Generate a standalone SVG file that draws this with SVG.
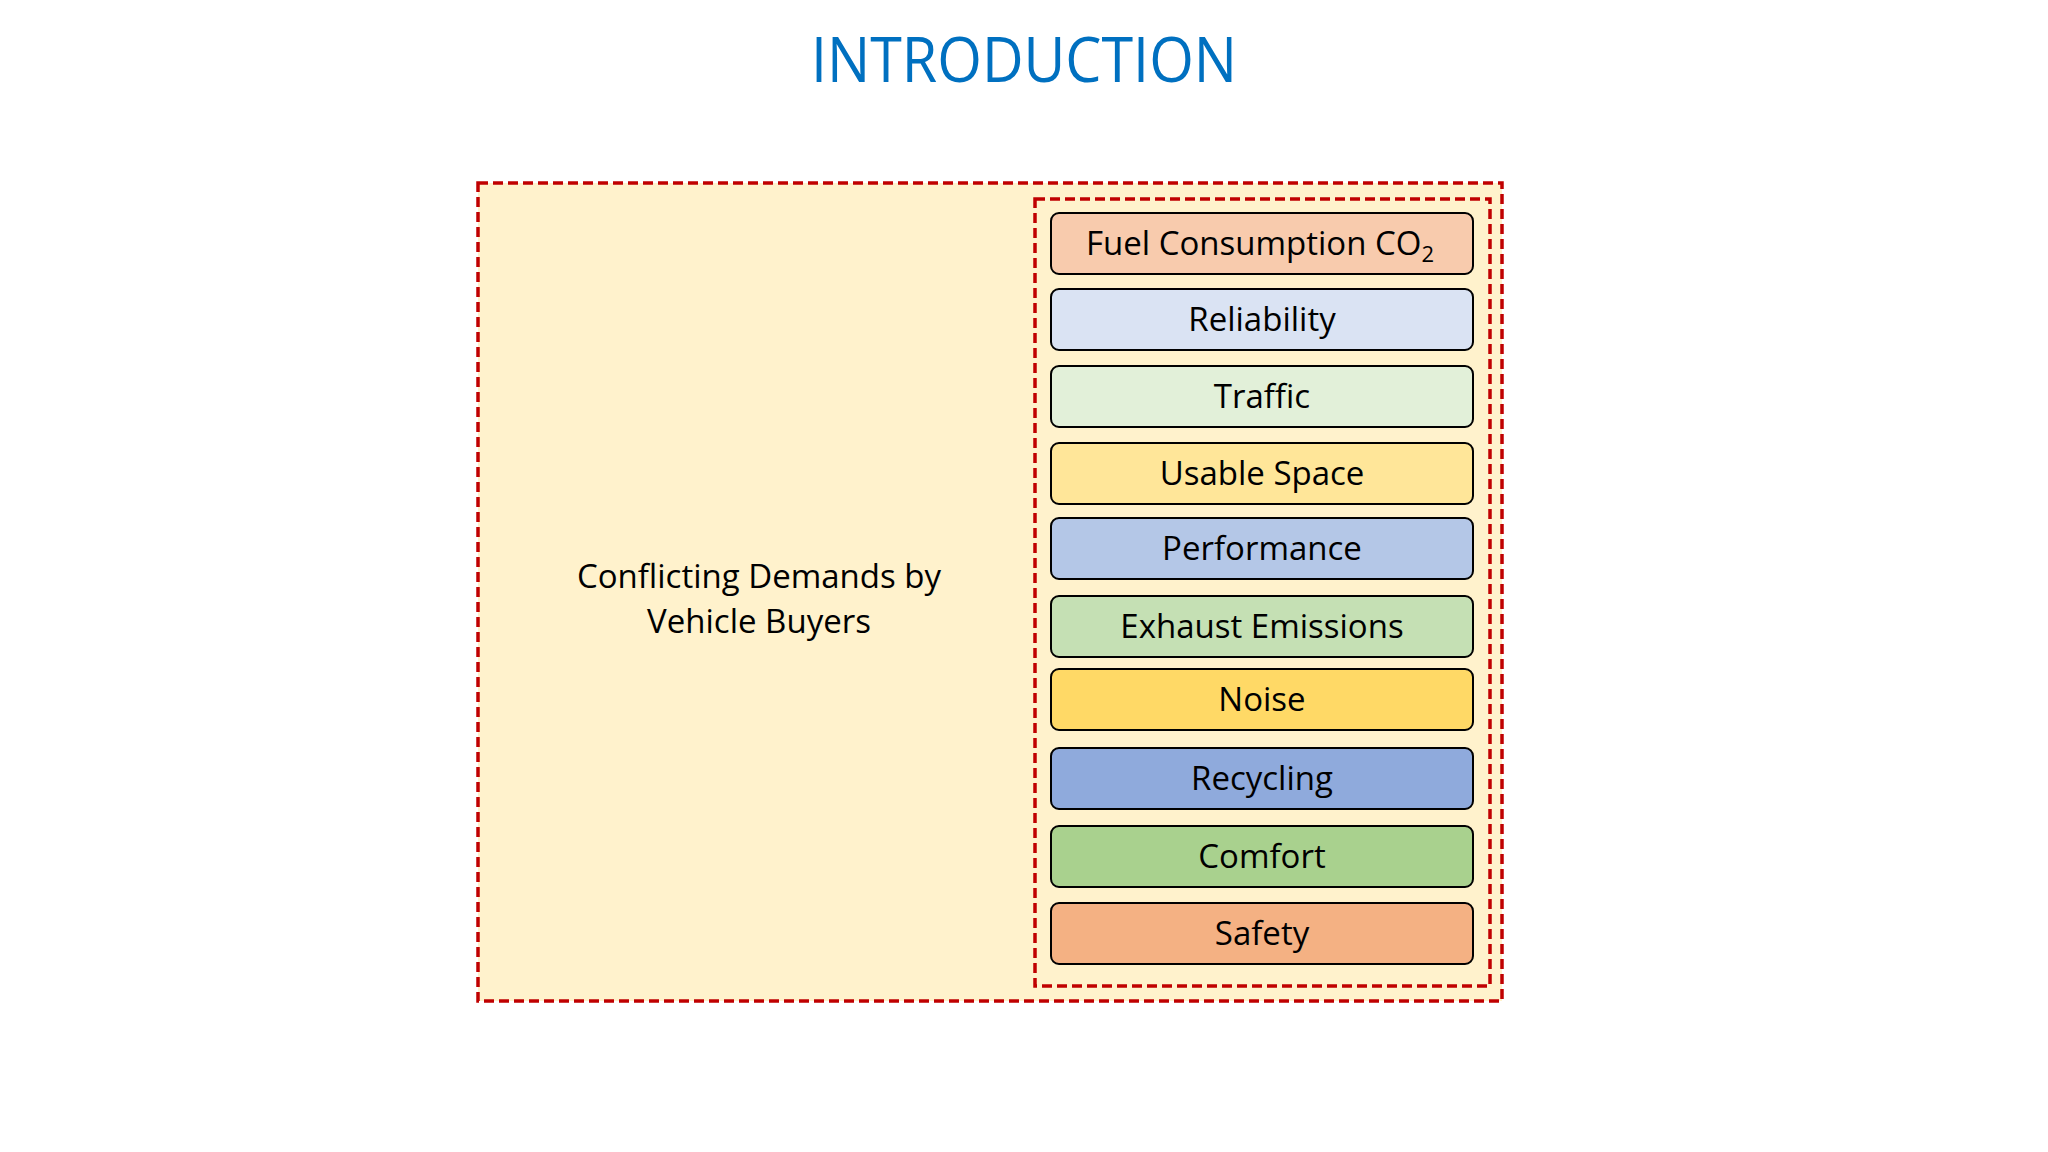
<svg xmlns="http://www.w3.org/2000/svg" width="2048" height="1152" viewBox="0 0 2048 1152">
<style>
text{font-family:"Open Sans","Liberation Sans",sans-serif;fill:#000;text-anchor:middle}
.b{stroke:#000;stroke-width:2}
.t{font-size:33px}
.d{fill:none;stroke:#C00000;stroke-width:3.5;stroke-dasharray:10 5}
</style>
<rect width="2048" height="1152" fill="#fff"/>
<text x="1024" y="82" style="font-size:62px;fill:#0070C0" textLength="426" lengthAdjust="spacingAndGlyphs">INTRODUCTION</text>
<g id="outer"><rect x="478" y="183" width="1024" height="818" fill="#FFF2CC"/><rect class="d" x="478" y="183" width="1024" height="818"/>
<text class="t" x="759" y="588">Conflicting Demands by</text><text class="t" x="759" y="633">Vehicle Buyers</text></g>
<g id="inner"><rect class="d" x="1035" y="199" width="455" height="787"/></g>
<g id="n1"><rect class="b" x="1051" y="213" width="422" height="61" rx="8" fill="#F8CBAD"/><text class="t" x="1260" y="255">Fuel Consumption  CO<tspan font-size="22" dy="7">2</tspan></text></g>
<g id="n2"><rect class="b" x="1051" y="289" width="422" height="61" rx="8" fill="#DAE3F3"/><text class="t" x="1262" y="331">Reliability</text></g>
<g id="n3"><rect class="b" x="1051" y="366" width="422" height="61" rx="8" fill="#E2F0D9"/><text class="t" x="1262" y="408">Traffic</text></g>
<g id="n4"><rect class="b" x="1051" y="443" width="422" height="61" rx="8" fill="#FFE699"/><text class="t" x="1262" y="485">Usable Space</text></g>
<g id="n5"><rect class="b" x="1051" y="518" width="422" height="61" rx="8" fill="#B4C7E7"/><text class="t" x="1262" y="560">Performance</text></g>
<g id="n6"><rect class="b" x="1051" y="596" width="422" height="61" rx="8" fill="#C5E0B4"/><text class="t" x="1262" y="638">Exhaust Emissions</text></g>
<g id="n7"><rect class="b" x="1051" y="669" width="422" height="61" rx="8" fill="#FFD966"/><text class="t" x="1262" y="711">Noise</text></g>
<g id="n8"><rect class="b" x="1051" y="748" width="422" height="61" rx="8" fill="#8FAADC"/><text class="t" x="1262" y="790">Recycling</text></g>
<g id="n9"><rect class="b" x="1051" y="826" width="422" height="61" rx="8" fill="#A9D18E"/><text class="t" x="1262" y="868">Comfort</text></g>
<g id="n10"><rect class="b" x="1051" y="903" width="422" height="61" rx="8" fill="#F4B183"/><text class="t" x="1262" y="945">Safety</text></g>
<g id="connectors"/>
</svg>
